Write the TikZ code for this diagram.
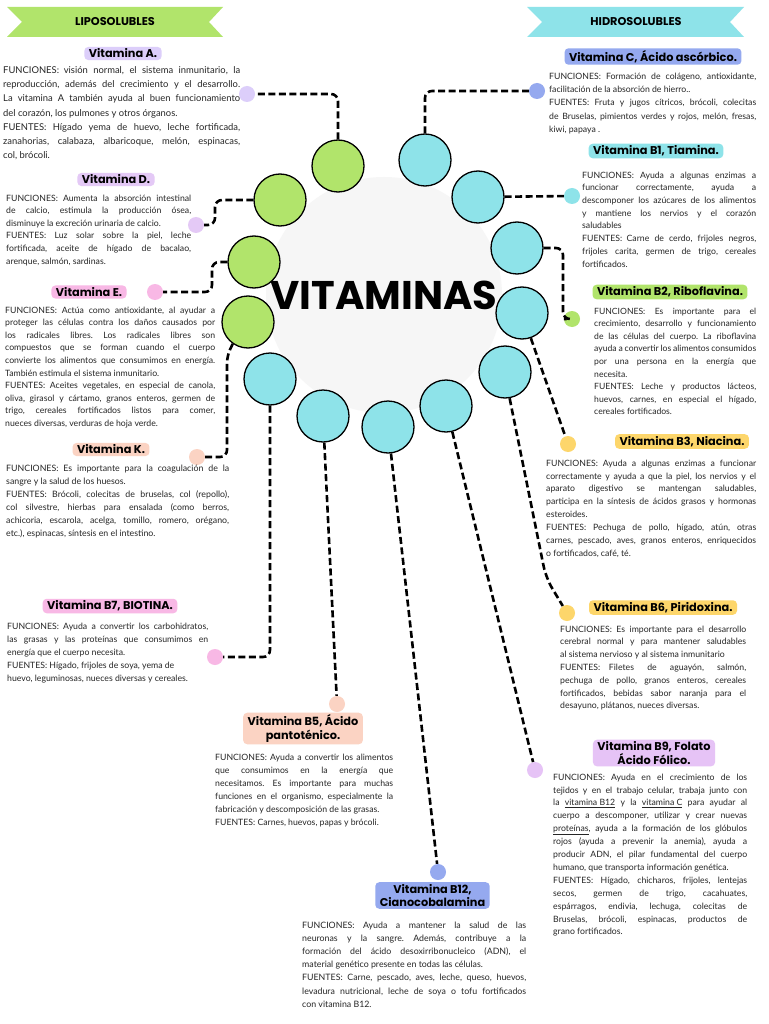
\documentclass[tikz,border=0pt]{standalone}
\usepackage{fontspec}
\setmainfont{Lato}
\newfontfamily\tfont{Poppins}
\frenchspacing
\definecolor{gr}{HTML}{B1E46B}
\definecolor{cy}{HTML}{8EE3E9}
\definecolor{lav}{HTML}{DCCEFA}
\definecolor{peri}{HTML}{95A9EF}
\definecolor{lil}{HTML}{E4C9F6}
\definecolor{pnk}{HTML}{F8B8E5}
\definecolor{pch}{HTML}{FBD3C3}
\definecolor{yel}{HTML}{FDD66B}
\definecolor{vio}{HTML}{E6C3F6}
\definecolor{cgray}{HTML}{F6F6F6}
\definecolor{txt}{HTML}{262626}
\tikzset{
  conn/.style={draw=black, line width=2.6pt, dash pattern=on 7pt off 3.5pt, rounded corners=7pt},
  ring/.style={circle, draw=black, line width=1.3pt, minimum size=52pt, inner sep=0pt},
  gcirc/.style={ring, fill=gr},
  ccirc/.style={ring, fill=cy},
  vdot/.style={circle, minimum size=16pt, inner sep=0pt},
  lbl/.style={rounded corners=4pt, inner xsep=4.5pt, inner ysep=2pt, align=center, text=black,
     font=\tfont\bfseries\fontsize{11.3}{13.5}\selectfont},
  body/.style={anchor=north west, inner sep=0pt, align=justify, text=txt},
  banner/.style={font=\tfont\bfseries\fontsize{11.3}{13}\selectfont, text=black}
}
\begin{document}
\begin{tikzpicture}[x=1pt,y=-1pt]
\useasboundingbox (0,0) rectangle (768,1024);
\fill[white] (0,0) rectangle (768,1024);

% banners
\fill[gr] (7,7) -- (223,7) -- (209,22) -- (223,37) -- (7,37) -- (22,22) -- cycle;
\node[banner] (lipo) at (115,22) {LIPOSOLUBLES};
\fill[cy] (527,7) -- (744,7) -- (730,22) -- (744,37) -- (527,37) -- (542,22) -- cycle;
\node[banner] (hidro) at (636,22) {HIDROSOLUBLES};

% core
\node[circle, fill=cgray, minimum size=236pt, inner sep=0pt, font=\tfont\bfseries\fontsize{40}{44}\selectfont] (core) at (384,295) {VITAMINAS};

% ring circles
\node[gcirc] (g1) at (338,166) {};
\node[gcirc] (g2) at (280,200) {};
\node[gcirc] (g3) at (254,262) {};
\node[gcirc] (g4) at (248,322) {};
\node[ccirc] (c1) at (425,160) {};
\node[ccirc] (c2) at (478,197) {};
\node[ccirc] (c3) at (517,248) {};
\node[ccirc] (c4) at (522,313) {};
\node[ccirc] (c5) at (505,372) {};
\node[ccirc] (c6) at (446,406) {};
\node[ccirc] (c7) at (388,427) {};
\node[ccirc] (c8) at (323,416) {};
\node[ccirc] (c9) at (270,379) {};

% dots
\node[vdot, fill=lav]  (dA)  at (247,94) {};
\node[vdot, fill=peri] (dC)  at (537,91) {};
\node[vdot, fill=lil]  (dD)  at (196,225) {};
\node[vdot, fill=pnk]  (dE)  at (155,292) {};
\node[vdot, fill=pch]  (dK)  at (197,457) {};
\node[vdot, fill=cy]   (dB1) at (572,196) {};
\node[vdot, fill=gr]   (dB2) at (572,319) {};
\node[vdot, fill=yel]  (dB3) at (568,444) {};
\node[vdot, fill=yel]  (dB6) at (567,613) {};
\node[vdot, fill=pnk]  (dB7) at (215,657) {};
\node[vdot, fill=pch]  (dB5) at (337,704) {};
\node[vdot, fill=vio]  (dB9) at (535,770) {};
\node[vdot, fill=peri] (dB12) at (438,872) {};

% connectors
\coordinate (kD) at (215,200);
\coordinate (kE) at (212,262);
\coordinate (kK) at (227,356);
\coordinate (kB2) at (563,248);
\coordinate (kB6) at (546,578);
\draw[conn] (g1.north) |- (dA);
\draw[conn] (c1.north) |- (dC);
\draw[conn] (g2.west) -- (kD) |- (dD);
\draw[conn] (g3.west) -- (kE) |- (dE);
\draw[conn] (g4.235) -- (kK) |- (dK);
\draw[conn] (c9.south) |- (dB7);
\draw[conn] (c8) -- (dB5);
\draw[conn] (c7) -- (dB12);
\draw[conn] (c6) -- (dB9);
\draw[conn, rounded corners=12pt] (c5.280) -- (kB6) -- (dB6);
\draw[conn] (c4) -- (dB3);
\draw[conn] (c3.east) -- (kB2) |- (dB2);
\draw[conn] (c2) -- (dB1);

% titles
\node[lbl, fill=lav]  (tA)  at (123,53.5) {Vitamina A.};
\node[lbl, fill=peri] (tC)  at (653,56.5) {Vitamina C, Ácido ascórbico.};
\node[lbl, fill=lil]  (tD)  at (116,179.5) {Vitamina D.};
\node[lbl, fill=pnk]  (tE)  at (89,292) {Vitamina E.};
\node[lbl, fill=pch]  (tK)  at (111,449.5) {Vitamina K.};
\node[lbl, fill=cy]   (tB1) at (656,151) {Vitamina B1, Tiamina.};
\node[lbl, fill=gr]   (tB2) at (670,292) {Vitamina B2, Riboflavina.};
\node[lbl, fill=yel]  (tB3) at (682,441.5) {Vitamina B3, Niacina.};
\node[lbl, fill=yel]  (tB6) at (663,607.5) {Vitamina B6, Piridoxina.};
\node[lbl, fill=pnk]  (tB7) at (110,606) {Vitamina B7, BIOTINA.};
\node[lbl, fill=pch]  (tB5) at (303,728.5) {Vitamina B5, Ácido\\pantoténico.};
\node[lbl, fill=vio]  (tB9) at (654,753) {Vitamina B9, Folato\\Ácido Fólico.};
\node[lbl, fill=peri] (tB12) at (432.5,895.5) {Vitamina B12,\\Cianocobalamina};

% body texts
\node[body, text width=237pt, font=\fontsize{9.4}{14.3}\selectfont] (xA) at (3,66) {%
FUNCIONES:\enspace visión normal, el sistema inmunitario, la\linebreak
reproducción, además del crecimiento y el desarrollo.\linebreak
La vitamina A también ayuda al buen funcionamiento\linebreak
del corazón, los pulmones y otros órganos.\par
FUENTES: Hígado yema de huevo, leche fortificada,\linebreak
zanahorias, calabaza, albaricoque, melón, espinacas,\linebreak
col, brócoli.\par};

\node[body, text width=207pt, font=\fontsize{8.7}{13.3}\selectfont] (xC) at (549,72.5) {%
FUNCIONES: Formación de colágeno, antioxidante,\linebreak
facilitación de la absorción de hierro..\par
FUENTES: Fruta y jugos cítricos, brócoli, colecitas\linebreak
de Bruselas, pimientos verdes y rojos, melón, fresas,\linebreak
kiwi, papaya .\par};

\node[body, text width=185pt, font=\fontsize{8.7}{12.6}\selectfont] (xD) at (6,194.5) {%
FUNCIONES: Aumenta la absorción intestinal\linebreak
de calcio, estimula la producción ósea,\linebreak
disminuye la excreción urinaria de calcio.\par
FUENTES: Luz solar sobre la piel, leche\linebreak
fortificada, aceite de hígado de bacalao,\linebreak
arenque, salmón, sardinas.\par};

\node[body, text width=210pt, font=\fontsize{8.7}{12.6}\selectfont] (xE) at (5,306.5) {%
FUNCIONES: Actúa como antioxidante, al ayudar a\linebreak
proteger las células contra los daños causados por\linebreak
los radicales libres. Los radicales libres son\linebreak
compuestos que se forman cuando el cuerpo\linebreak
convierte los alimentos que consumimos en energía.\linebreak
También estimula el sistema inmunitario.\par
FUENTES: Aceites vegetales, en especial de canola,\linebreak
oliva, girasol y cártamo, granos enteros, germen de\linebreak
trigo, cereales fortificados listos para comer,\linebreak
nueces diversas, verduras de hoja verde.\par};

\node[body, text width=223pt, font=\fontsize{8.8}{13}\selectfont] (xK) at (6,464.5) {%
FUNCIONES: Es importante para la coagulación de la\linebreak
sangre y la salud de los huesos.\par
FUENTES: Brócoli, colecitas de bruselas, col (repollo),\linebreak
col silvestre, hierbas para ensalada (como berros,\linebreak
achicoria, escarola, acelga, tomillo, romero, orégano,\linebreak
etc.), espinacas, síntesis en el intestino.\par};

\node[body, text width=174pt, font=\fontsize{8.7}{12.7}\selectfont] (xB1) at (582,171.5) {%
FUNCIONES: Ayuda a algunas enzimas a\linebreak
funcionar correctamente, ayuda a\linebreak
descomponer los azúcares de los alimentos\linebreak
y mantiene los nervios y el corazón\linebreak
saludables\par
FUENTES:\enspace Carne de cerdo, frijoles negros,\linebreak
frijoles carita, germen de trigo, cereales\linebreak
fortificados.\par};

\node[body, text width=162pt, font=\fontsize{8.6}{12.6}\selectfont] (xB2) at (594,307.5) {%
FUNCIONES: Es importante para el\linebreak
crecimiento, desarrollo y funcionamiento\linebreak
de las células del cuerpo. La riboflavina\linebreak
ayuda a convertir los alimentos consumidos\linebreak
por una persona en la energía que\linebreak
necesita.\par
FUENTES: Leche y productos lácteos,\linebreak
huevos, carnes, en especial el hígado,\linebreak
cereales fortificados.\par};

\node[body, text width=210pt, font=\fontsize{8.7}{12.9}\selectfont] (xB3) at (546,459.5) {%
FUNCIONES: Ayuda a algunas enzimas a funcionar\linebreak
correctamente y ayuda a que la piel, los nervios y el\linebreak
aparato digestivo se mantengan saludables,\linebreak
participa en la síntesis de ácidos grasos y hormonas\linebreak
esteroides.\par
FUENTES: Pechuga de pollo, hígado, atún, otras\linebreak
carnes, pescado, aves, granos enteros, enriquecidos\linebreak
o fortificados, café, té.\par};

\node[body, text width=186pt, font=\fontsize{8.7}{12.8}\selectfont] (xB6) at (560,625.5) {%
FUNCIONES: Es importante para el desarrollo\linebreak
cerebral normal y para mantener saludables\linebreak
al sistema nervioso y al sistema inmunitario\par
FUENTES:\quad Filetes de aguayón, salmón,\linebreak
pechuga de pollo, granos enteros, cereales\linebreak
fortificados, bebidas sabor naranja para el\linebreak
desayuno, plátanos, nueces diversas.\par};

\node[body, text width=201pt, font=\fontsize{8.7}{13}\selectfont] (xB7) at (7,622.5) {%
FUNCIONES: Ayuda a convertir los carbohidratos,\linebreak
las grasas y las proteínas que consumimos en\linebreak
energía que el cuerpo necesita.\par
FUENTES: Hígado, frijoles de soya, yema de\newline
huevo, leguminosas, nueces diversas y cereales.\par};

\node[body, text width=178pt, font=\fontsize{8.7}{13}\selectfont] (xB5) at (215,753.5) {%
FUNCIONES: Ayuda a convertir los alimentos\linebreak
que consumimos en la energía que\linebreak
necesitamos. Es importante para muchas\linebreak
funciones en el organismo, especialmente la\linebreak
fabricación y descomposición de las grasas.\par
FUENTES: Carnes, huevos, papas y brócoli.\par};

\node[body, text width=194pt, font=\fontsize{8.7}{12.9}\selectfont] (xB9) at (553,773.5) {%
FUNCIONES: Ayuda en el crecimiento de los\linebreak
tejidos y en el trabajo celular, trabaja junto con\linebreak
la \underline{vitamina B12} y la \underline{vitamina C} para ayudar al\linebreak
cuerpo a descomponer, utilizar y crear nuevas\linebreak
\underline{proteínas}, ayuda a la formación de los glóbulos\linebreak
rojos (ayuda a prevenir la anemia), ayuda a\linebreak
producir ADN, el pilar fundamental del cuerpo\linebreak
humano, que transporta información genética.\par
FUENTES: Hígado, chicharos, frijoles, lentejas\linebreak
secos, germen de trigo, cacahuates,\linebreak
espárragos, endivia, lechuga, colecitas de\linebreak
Bruselas, brócoli, espinacas, productos de\linebreak
grano fortificados.\par};

\node[body, text width=224pt, font=\fontsize{8.8}{13.2}\selectfont] (xB12) at (302,921.5) {%
FUNCIONES: Ayuda a mantener la salud de las\linebreak
neuronas y la sangre. Además, contribuye a la\linebreak
formación del ácido desoxirribonucleico (ADN), el\linebreak
material genético presente en todas las células.\par
FUENTES: Carne, pescado, aves, leche, queso, huevos,\linebreak
levadura nutricional, leche de soya o tofu fortificados\linebreak
con vitamina B12.\par};
\end{tikzpicture}
\end{document}
